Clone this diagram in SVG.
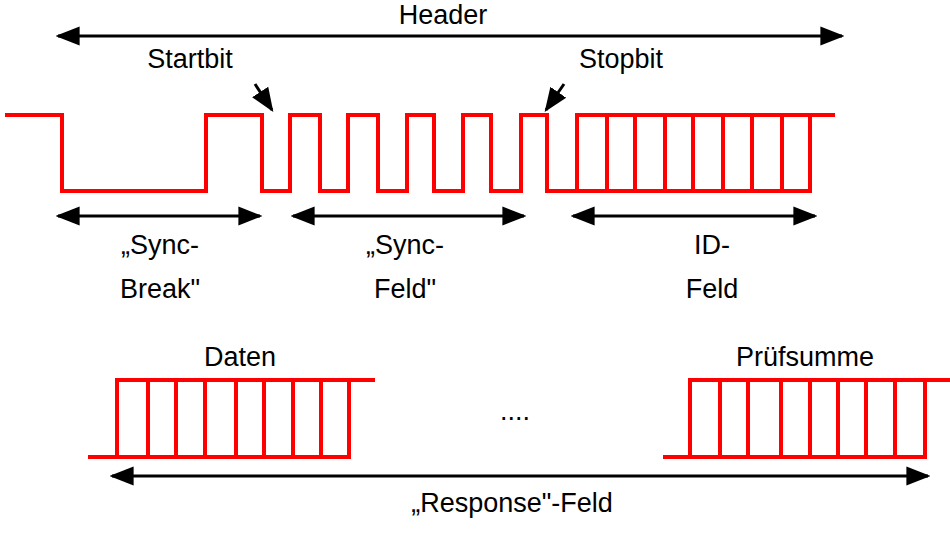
<svg xmlns="http://www.w3.org/2000/svg" width="950" height="534" viewBox="0 0 950 534">
<style>
.sig{fill:none;stroke:#ff0000;stroke-width:4}
text{font-family:"Liberation Sans",Arial,sans-serif;font-size:27px;fill:#000;text-anchor:middle}
</style>
<defs>
<marker id="ah2" viewBox="0 0 10 10" refX="9" refY="5" markerWidth="24" markerHeight="24" orient="auto-start-reverse" markerUnits="userSpaceOnUse">
<path d="M0,1 L10,5 L0,9 z" fill="#000"/>
</marker>
</defs>
<g id="signal-header">
<path class="sig" d="M5,115 H62 V191 H206 V115 H262 V191 H290 V115 H320 V191 H348 V115 H378 V191 H407 V115 H434 V191 H463 V115 H491 V191 H521 V115 H547 V191 H810 V115"/>
<path class="sig" d="M577,191 V115 H835 M607,115 V191 M635,115 V191 M665,115 V191 M693,115 V191 M723,115 V191 M752,115 V191 M782,115 V191"/>
</g>
<g id="signal-daten">
<path class="sig" d="M88,457 H349 V380 M117,457 V380 H375 M148,380 V457 M176,380 V457 M205,380 V457 M236,380 V457 M264,380 V457 M293,380 V457 M321,380 V457"/>
</g>
<g id="signal-pruefsumme">
<path class="sig" d="M663,457 H925 V380 M690,457 V380 H950 M720,380 V457 M748,380 V457 M781,380 V457 M810,380 V457 M838,380 V457 M866,380 V457 M895,380 V457"/>
</g>
<g id="connectors" fill="none" stroke="#000" stroke-width="3">
<path d="M58,36 H842" marker-start="url(#ah2)" marker-end="url(#ah2)"/>
<path d="M58,216 H260" marker-start="url(#ah2)" marker-end="url(#ah2)"/>
<path d="M293,216 H524" marker-start="url(#ah2)" marker-end="url(#ah2)"/>
<path d="M573,216 H815" marker-start="url(#ah2)" marker-end="url(#ah2)"/>
<path d="M112,476 H928" marker-start="url(#ah2)" marker-end="url(#ah2)"/>
<path d="M255,84 L272,110" marker-end="url(#ah2)"/>
<path d="M564,84 L546,110" marker-end="url(#ah2)"/>
</g>
<g id="labels">
<text x="443" y="24">Header</text>
<text x="190" y="68">Startbit</text>
<text x="621" y="68">Stopbit</text>
<text x="160" y="254">„Sync-</text>
<text x="160" y="298">Break"</text>
<text x="405" y="254">„Sync-</text>
<text x="405" y="298">Feld"</text>
<text x="712" y="254">ID-</text>
<text x="712" y="298">Feld</text>
<text x="240" y="366">Daten</text>
<text x="805" y="366">Prüfsumme</text>
<text x="515" y="420">....</text>
<text x="512" y="512">„Response"-Feld</text>
</g>
</svg>
